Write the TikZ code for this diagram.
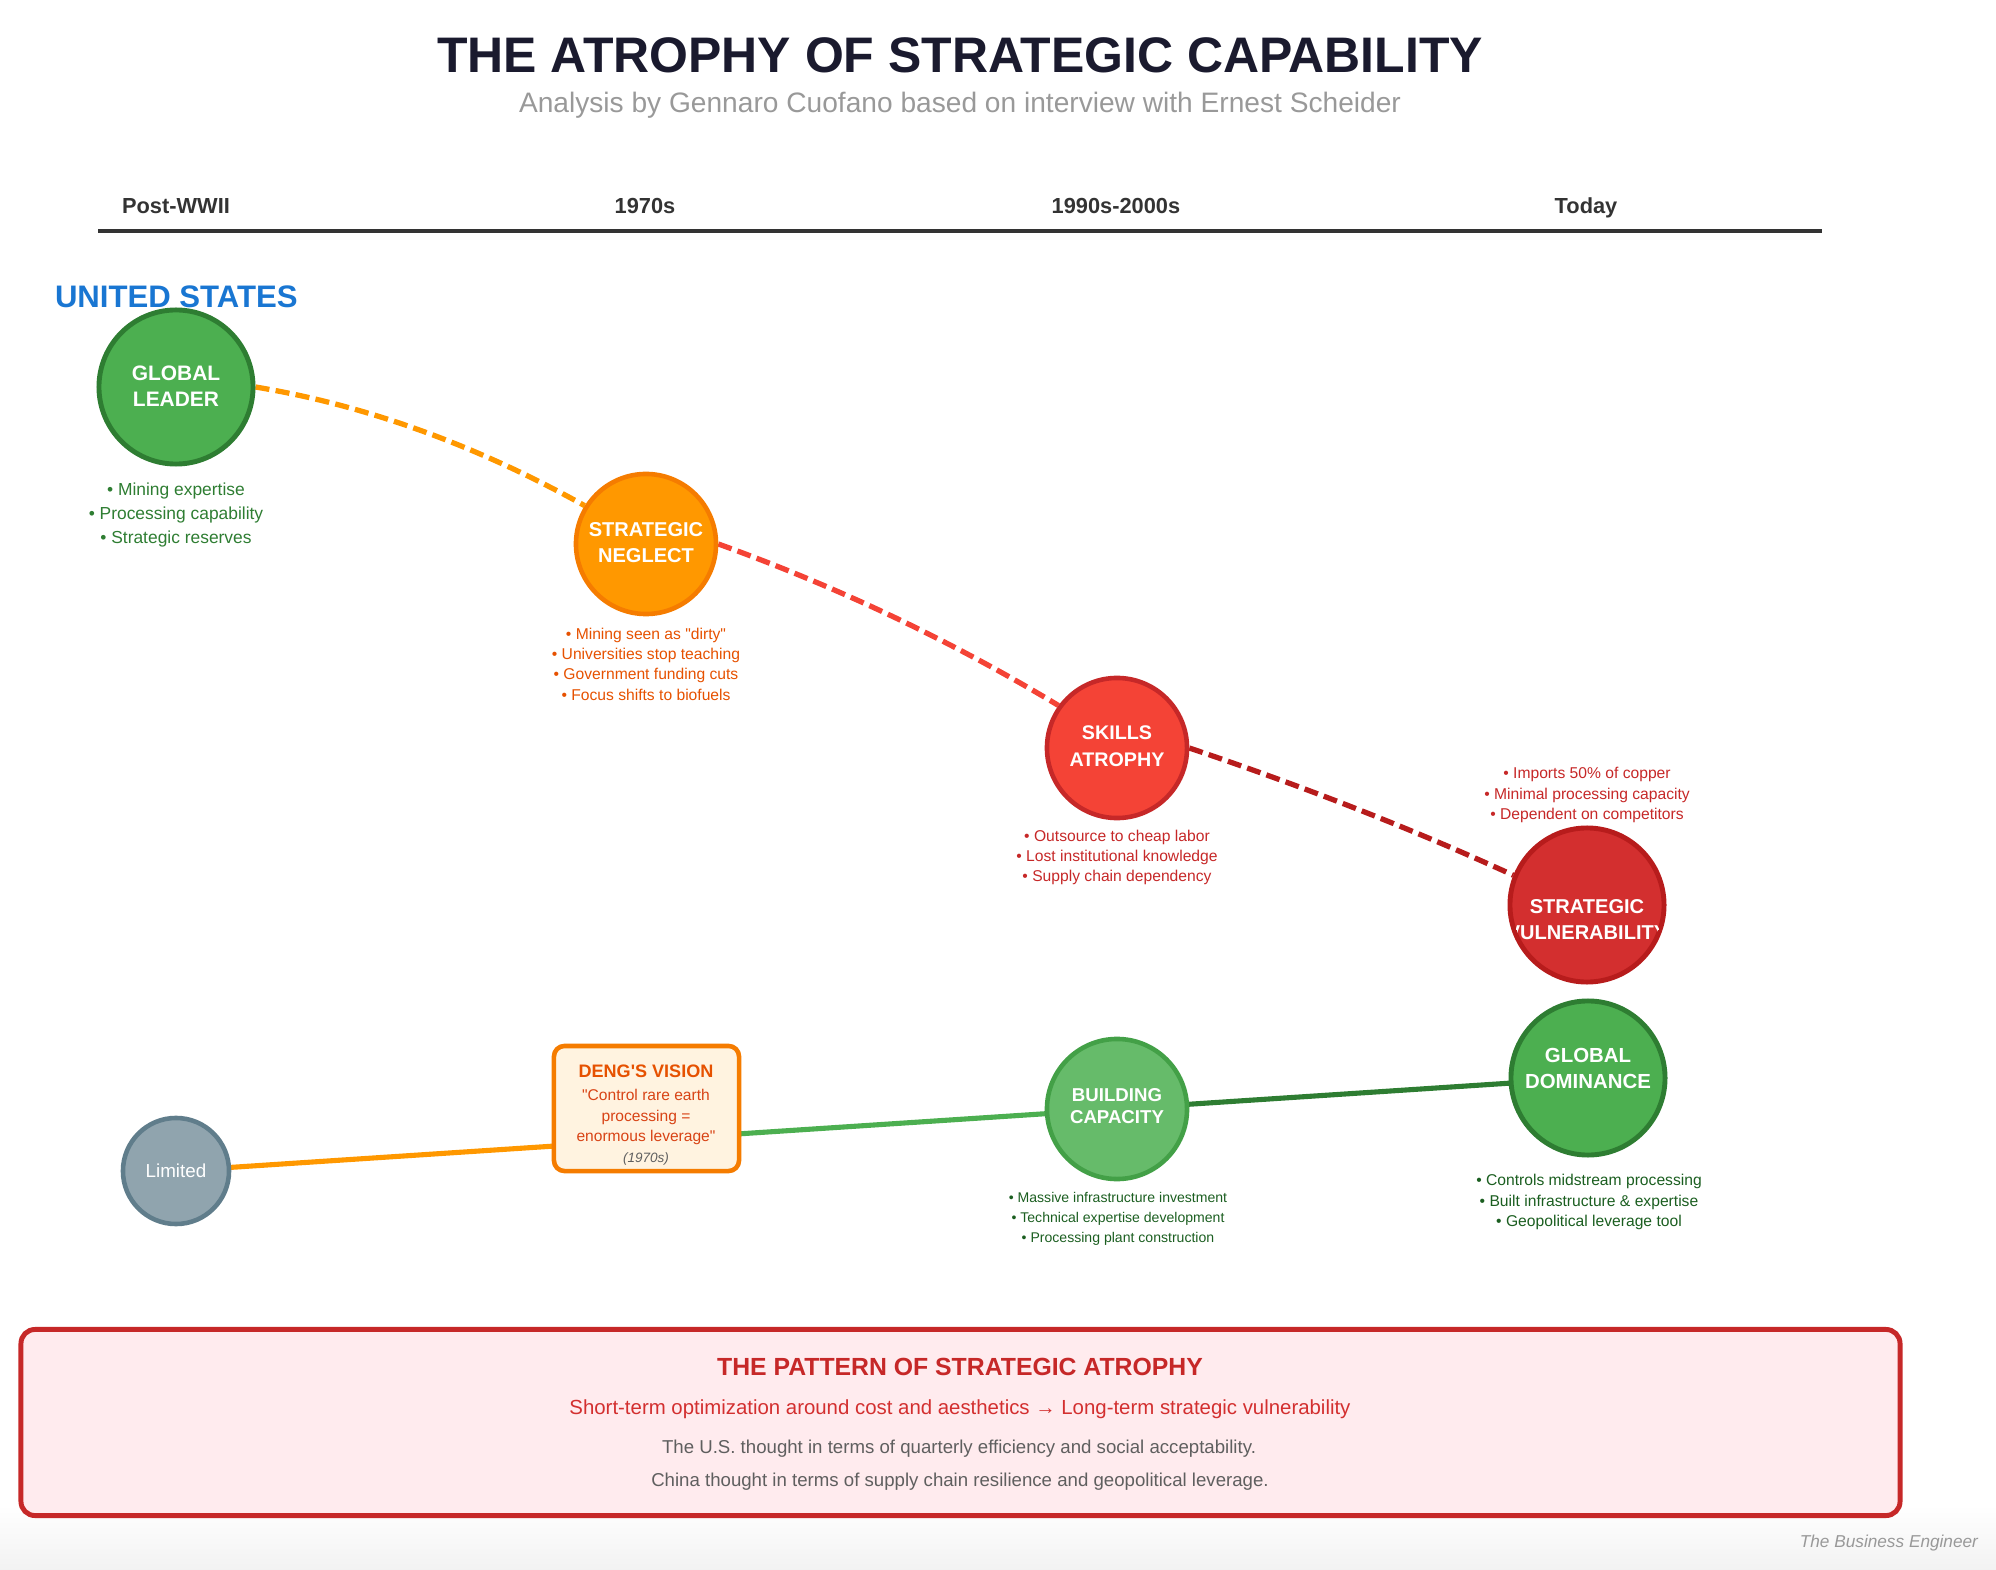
\documentclass[tikz,border=0pt]{standalone}
\usepackage{fontspec}
\setmainfont{Liberation Sans}
\usetikzlibrary{backgrounds}
\definecolor{titlec}{HTML}{1A1A2E}
\definecolor{subc}{HTML}{999999}
\definecolor{axisc}{HTML}{333333}
\definecolor{usblue}{HTML}{1976D2}
\definecolor{gfill}{HTML}{4CAF50}
\definecolor{gdark}{HTML}{2E7D32}
\definecolor{gdeep}{HTML}{1B5E20}
\definecolor{ofill}{HTML}{FF9800}
\definecolor{odark}{HTML}{F57C00}
\definecolor{odeep}{HTML}{E65100}
\definecolor{rfill}{HTML}{F44336}
\definecolor{rdark}{HTML}{C62828}
\definecolor{rtwofill}{HTML}{D32F2F}
\definecolor{rtwodark}{HTML}{B71C1C}
\definecolor{lgfill}{HTML}{66BB6A}
\definecolor{lgdark}{HTML}{43A047}
\definecolor{grayfill}{HTML}{90A4AE}
\definecolor{graydark}{HTML}{607D8B}
\definecolor{dengfill}{HTML}{FFF3E0}
\definecolor{dengq}{HTML}{D84315}
\definecolor{boxfill}{HTML}{FFEBEE}
\definecolor{txtgray}{HTML}{5F5F5F}
\definecolor{wmgray}{HTML}{999999}
\newcommand{\straightap}{{\XeTeXglyph\the\XeTeXcharglyph"27\relax}}
\newcommand{\sqt}{{\XeTeXglyph\the\XeTeXcharglyph"22\relax}}
\tikzset{
  txt/.style={inner sep=0pt, outer sep=0pt, align=center},
  circ/.style={circle, inner sep=0pt, line width=1.4pt},
  ctext/.style={txt, text=white},
  dashc/.style={line width=1.5pt, dash pattern=on 4pt off 1.8pt},
  solidc/.style={line width=1.45pt},
}
\begin{document}
\begin{tikzpicture}[x=0.01cm,y=-0.01cm]
\useasboundingbox (0,0) rectangle (1996,1570);
% header
\node[txt, anchor=base, text=titlec, font=\bfseries\fontsize{14.2}{17}\selectfont] (title) at (960,73) {THE ATROPHY OF STRATEGIC CAPABILITY};
\node[txt, anchor=base, text=subc, font=\fontsize{8.0}{9.6}\selectfont] (subtitle) at (960,113) {Analysis by Gennaro Cuofano based on interview with Ernest Scheider};
% timeline
\coordinate (tla) at (98,231);
\coordinate (tlb) at (1822,231);
\draw[axisc, line width=1.4pt] (tla) -- (tlb);
\node[txt, anchor=base, text=axisc, font=\bfseries\fontsize{6.2}{7.5}\selectfont] (era1) at (176,214) {Post-WWII};
\node[txt, anchor=base, text=axisc, font=\bfseries\fontsize{6.2}{7.5}\selectfont] (era2) at (645,214) {1970s};
\node[txt, anchor=base, text=axisc, font=\bfseries\fontsize{6.2}{7.5}\selectfont] (era3) at (1116,214) {1990s-2000s};
\node[txt, anchor=base, text=axisc, font=\bfseries\fontsize{6.2}{7.5}\selectfont] (era4) at (1586,214) {Today};
\node[txt, anchor=base west, text=usblue, font=\bfseries\fontsize{8.85}{10}\selectfont] (us) at (55,308) {UNITED STATES};
% circles
\node[circ, minimum size=1.54cm, fill=gfill, draw=gdark] (gl) at (176,387) {};
\node[circ, minimum size=1.40cm, fill=ofill, draw=odark, line width=1.3pt] (sn) at (646,544) {};
\node[circ, minimum size=1.40cm, fill=rfill, draw=rdark, line width=1.3pt] (sa) at (1117,748) {};
\node[circ, minimum size=1.54cm, fill=rtwofill, draw=rtwodark] (sv) at (1587,905) {};
\node[circ, minimum size=1.54cm, fill=gfill, draw=gdark] (gd) at (1588,1078) {};
\node[circ, minimum size=1.40cm, fill=lgfill, draw=lgdark, line width=1.3pt] (bc) at (1117,1109) {};
\node[circ, minimum size=1.06cm, fill=grayfill, draw=graydark, line width=1.3pt] (lim) at (176,1171) {};
% circle texts
\node[ctext, font=\bfseries\fontsize{5.95}{7.5}\selectfont] (gltxt) at (176,386) {GLOBAL\\LEADER};
\node[ctext, font=\bfseries\fontsize{5.7}{7.4}\selectfont] (sntxt) at (646,543) {STRATEGIC\\NEGLECT};
\node[ctext, font=\bfseries\fontsize{5.6}{7.6}\selectfont] (satxt) at (1117,746.5) {SKILLS\\ATROPHY};
\begin{scope}
\clip (sv.center) circle[radius=0.75cm];
\node[ctext, font=\bfseries\fontsize{5.7}{7.5}\selectfont] (svtxt) at (1587,919.5) {STRATEGIC\\VULNERABILITY};
\end{scope}
\node[ctext, font=\bfseries\fontsize{5.8}{7.4}\selectfont] (gdtxt) at (1588,1068) {GLOBAL\\DOMINANCE};
\node[ctext, font=\bfseries\fontsize{5.3}{6.3}\selectfont] (bctxt) at (1117,1106) {BUILDING\\CAPACITY};
\node[ctext, anchor=base, font=\fontsize{5.35}{6.5}\selectfont] (limtxt) at (176,1177) {Limited};
% bullet lists
\node[txt, text=gdark, font=\fontsize{4.95}{6.7}\selectfont] (glb) at (176,515) {• Mining expertise\\• Processing capability\\• Strategic reserves};
\node[txt, text=odeep, font=\fontsize{4.45}{5.77}\selectfont] (snb) at (646,664) {• Mining seen as \sqt dirty\sqt\\• Universities stop teaching\\• Government funding cuts\\• Focus shifts to biofuels};
\node[txt, text=rdark, font=\fontsize{4.45}{5.8}\selectfont] (sab) at (1117,857.5) {• Outsource to cheap labor\\• Lost institutional knowledge\\• Supply chain dependency};
\node[txt, text=rdark, font=\fontsize{4.45}{5.7}\selectfont] (svb) at (1587,795) {• Imports 50\% of copper\\• Minimal processing capacity\\• Dependent on competitors};
\node[txt, text=gdeep, font=\fontsize{4.0}{5.7}\selectfont] (bcb) at (1118,1219) {• Massive infrastructure investment\\• Technical expertise development\\• Processing plant construction};
\node[txt, text=gdeep, font=\fontsize{4.45}{5.8}\selectfont] (gdb) at (1589,1202) {• Controls midstream processing\\• Built infrastructure \& expertise\\• Geopolitical leverage tool};
% Deng box
\node[draw=odark, fill=dengfill, line width=1.3pt, rounded corners=3pt, minimum width=1.85cm, minimum height=1.25cm, inner sep=0pt] (deng) at (646.5,1108.5) {};
\node[txt, text=odeep, font=\bfseries\fontsize{5.14}{6.2}\selectfont] (dengt) at (646,1071) {DENG\straightap S VISION};
\node[txt, text=dengq, font=\fontsize{4.43}{5.8}\selectfont] (dengquote) at (646,1117) {\sqt Control rare earth\\processing =\\enormous leverage\sqt};
\node[txt, text=txtgray, font=\itshape\fontsize{3.85}{4.6}\selectfont] (dengyr) at (646,1159) {(1970s)};
\coordinate (dengjoin) at (646,1140);
% connectors
\begin{pgfonlayer}{background}
\shade[top color=white, bottom color=black!5] (0,1505) rectangle (1996,1570);
\draw[dashc, ofill] (gl.east) .. controls (364,405) and (474,444) .. (sn.148);
\draw[dashc, rfill] (sn.east) .. controls (835,586) and (948,639) .. (sa.144);
\draw[dashc, rtwodark] (sa.east) .. controls (1299,785) and (1408,827) .. (sv.158);
\draw[solidc, ofill] (lim.center) -- (dengjoin);
\draw[solidc, gfill] (dengjoin) -- (bc.center);
\draw[solidc, gdark] (bc.center) -- (gd.center);
\end{pgfonlayer}
% pattern box
\node[draw=rdark, fill=boxfill, line width=1.4pt, rounded corners=4pt, minimum width=18.78cm, minimum height=1.86cm, inner sep=0pt] (pbox) at (960.5,1422.5) {};
\node[txt, text=rdark, font=\bfseries\fontsize{7.05}{8.4}\selectfont] (ptitle) at (960,1367) {THE PATTERN OF STRATEGIC ATROPHY};
\node[txt, anchor=base, text=rtwofill, font=\fontsize{5.8}{7}\selectfont] (psub) at (960,1414) {Short-term optimization around cost and aesthetics → Long-term strategic vulnerability};
\node[txt, anchor=base, text=txtgray, font=\fontsize{5.3}{6.4}\selectfont] (pl1) at (959,1453) {The U.S. thought in terms of quarterly efficiency and social acceptability.};
\node[txt, anchor=base, text=txtgray, font=\fontsize{5.3}{6.4}\selectfont] (pl2) at (960,1486) {China thought in terms of supply chain resilience and geopolitical leverage.};
\node[txt, anchor=base east, text=wmgray, font=\itshape\fontsize{4.9}{6}\selectfont] (wm) at (1978,1547) {The Business Engineer};
\end{tikzpicture}
\end{document}
